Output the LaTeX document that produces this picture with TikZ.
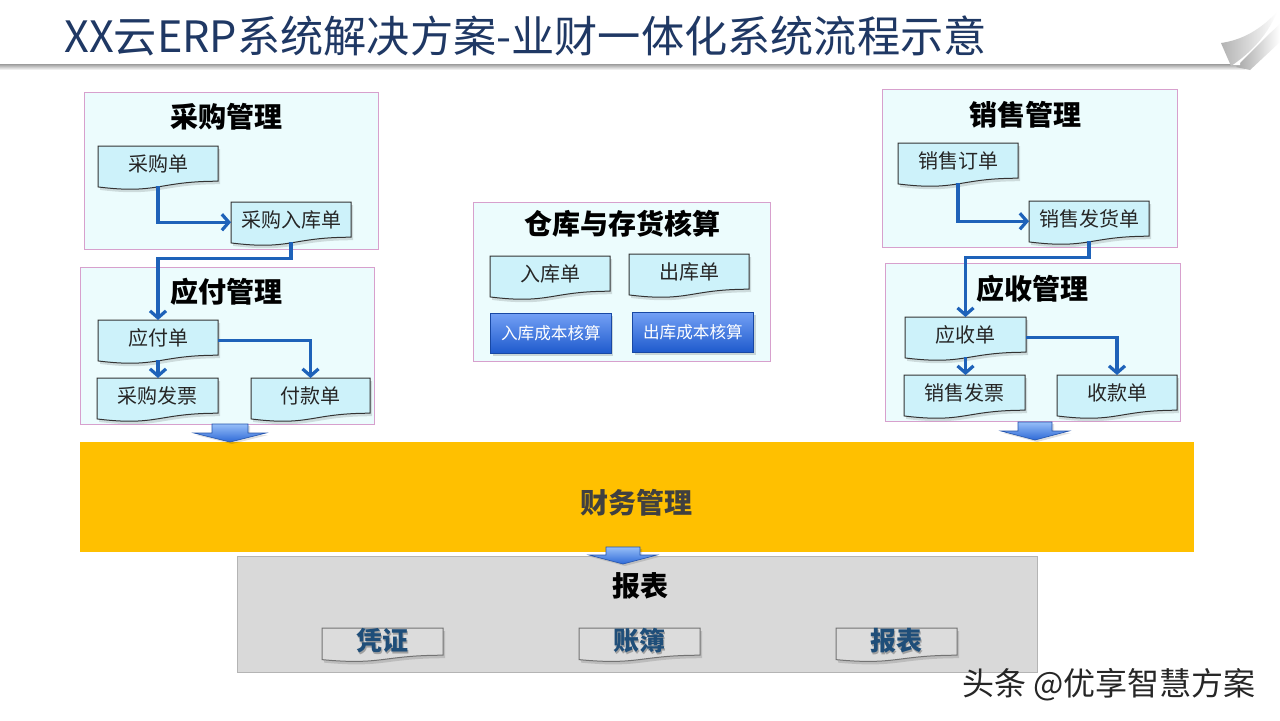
\documentclass[tikz,border=0pt]{standalone}
\usepackage{fontspec}
\setmainfont{Noto Sans CJK SC}
\usetikzlibrary{arrows.meta,calc}
\definecolor{titleblue}{RGB}{31,56,100}
\definecolor{panelfill}{RGB}{236,252,253}
\definecolor{panelborder}{RGB}{215,160,205}
\definecolor{docfill}{RGB}{205,242,250}
\definecolor{flowblue}{RGB}{30,98,185}
\definecolor{btntop}{RGB}{115,160,245}
\definecolor{btnbot}{RGB}{30,90,205}
\definecolor{arrtop}{RGB}{150,190,248}
\definecolor{arrbot}{RGB}{45,105,215}
\definecolor{finorange}{RGB}{255,192,0}
\definecolor{fintext}{RGB}{64,64,64}
\definecolor{repgray}{RGB}{217,217,217}
\definecolor{repborder}{RGB}{180,180,180}
\definecolor{repblue}{RGB}{31,78,121}

\newcommand\docshape[5]{% style, left, top, w, h
  \fill[black,opacity=0.13] (#2+2,#3+3) -- (#2+#4+2,#3+3) -- (#2+#4+2,#3+0.8*#5+3)
    .. controls (#2+0.5*#4+2,#3+0.8*#5+3) and (#2+0.5*#4+2,#3+1.1*#5+3) .. (#2+2,#3+0.93*#5+3) -- cycle;
  \path[#1] (#2,#3) -- (#2+#4,#3) -- (#2+#4,#3+0.8*#5)
    .. controls (#2+0.5*#4,#3+0.8*#5) and (#2+0.5*#4,#3+1.1*#5) .. (#2,#3+0.93*#5) -- cycle;
}
\newcommand\docnode[6]{% name, left, top, w, h, text
  \docshape{docstyle}{#2}{#3}{#4}{#5}
  \node[docanchor, minimum width=#4*0.5pt, minimum height=#5*0.46pt] (#1) at (#2,#3) {};
  \node[doctext] at ($(#1.north)+(0,0.41*#5)$) {#6};
}
\newcommand\repdoc[5]{% name, left, top, w, text
  \docshape{repdocstyle}{#2}{#3}{#4}{34}
  \node[docanchor, minimum width=#4*0.5pt, minimum height=34*0.46pt] (#1) at (#2,#3) {};
  \node[reptext, text=black!60, opacity=0.5] at ($(#1.north)+(1,14.5)$) {#5};
  \node[reptext] at ($(#1.north)+(0,13)$) {#5};
}
\newcommand\blockarrow[5]{% cx, top, headtop, tip, halfshaft
  \fill[black,opacity=0.12] (#1-#5+2,#2+2) -- (#1+#5+2,#2+2) -- (#1+#5+2,#3+2) -- (#1+2*#5+2,#3+2) -- (#1+2,#4+2) -- (#1-2*#5+2,#3+2) -- (#1-#5+2,#3+2) -- cycle;
  \shade[top color=arrtop, bottom color=arrbot, draw=arrbot!80!black, line width=0.3pt]
    (#1-#5,#2) -- (#1+#5,#2) -- (#1+#5,#3) -- (#1+2*#5,#3) -- (#1,#4) -- (#1-2*#5,#3) -- (#1-#5,#3) -- cycle;
}

\begin{document}
\begin{tikzpicture}[x=0.5pt,y=-0.5pt,
  panel/.style={fill=panelfill, draw=panelborder, line width=0.6pt, anchor=north west, inner sep=0pt},
  paneltitle/.style={font=\fontsize{14}{16}\selectfont\bfseries, text=black},
  docstyle/.style={fill=docfill, draw=black!80, line width=0.5pt},
  repdocstyle/.style={fill=repgray!92!white, draw=black!55, line width=0.5pt},
  docanchor/.style={draw=none, inner sep=0pt, outer sep=0pt, anchor=north west},
  doctext/.style={font=\fontsize{10}{12}\selectfont, text=black!85},
  reptext/.style={font=\fontsize{13}{15}\selectfont\bfseries, text=repblue},
  flow/.style={draw=flowblue, line width=1.6pt, -{Straight Barb[length=3.5pt,width=8pt,line width=1.6pt]}},
  costbtn/.style={top color=btntop, bottom color=btnbot, draw=btnbot!80!black, line width=0.4pt,
    anchor=north west, inner sep=0pt, minimum width=60.5pt, minimum height=20pt,
    font=\fontsize{8.3}{10}\selectfont, text=white}]
\useasboundingbox (0,0) rectangle (1280,720);
\fill[white] (0,0) rectangle (1280,720);

% ---------- title banner ----------
\shade[top color=black!45, bottom color=white] (0,63) rectangle (1245,70);
\fill[white] (0,0) rectangle (1240,64);
\shade[left color=black!35, right color=white] (1236,67) -- (1268,35) -- (1280,24) -- (1280,42) -- (1250,70) -- cycle;
\fill[white] (1232,65) -- (1222,42) -- (1262,24) -- (1280,6) -- (1280,0) -- (1240,0) -- (1240,65) -- cycle;
\shade[left color=black!30, right color=white] (1221,43) .. controls (1242,40) and (1260,30) .. (1277,12)
  .. controls (1268,34) and (1252,52) .. (1231,66) -- cycle;
\node[anchor=west, font=\fontsize{21.6}{26}\selectfont, text=titleblue, inner sep=0pt] (title) at (64,36)
  {XX云ERP系统解决方案-业财一体化系统流程示意};

% ---------- purchase ----------
\node[panel, minimum width=147pt, minimum height=78.5pt] (cgpanel) at (84,92) {};
\node[paneltitle] (cgtitle) at (226,117) {采购管理};
\docnode{cgd}{98}{146}{120}{44}{采购单}
\docnode{cgrk}{231}{202}{120}{44}{采购入库单}

\node[panel, minimum width=147pt, minimum height=78.5pt] (yfpanel) at (80,267) {};
\node[paneltitle] (yftitle) at (226,292) {应付管理};
\docnode{yfd}{98}{320}{120}{44}{应付单}
\docnode{cgfp}{97}{378}{121}{44}{采购发票}
\docnode{fkd}{251}{378}{119}{44}{付款单}

\draw[flow] (cgd.south) |- (cgrk.west);
\draw[flow] (cgrk.south) -- ($(cgrk.south)+(0,16)$) -| (yfd.north);
\draw[flow] (yfd.south) -- (yfd.south |- cgfp.north);
\draw[flow] (yfd.east) -| (fkd.north);

% ---------- warehouse ----------
\node[panel, minimum width=148.5pt, minimum height=79.5pt] (ckpanel) at (473,202) {};
\node[paneltitle] (cktitle) at (622,224) {仓库与存货核算};
\docnode{rkd}{490}{256}{120}{44}{入库单}
\docnode{ckd}{629}{254}{120}{44}{出库单}
\fill[black,opacity=0.15] (493,316) rectangle (613,356);
\fill[black,opacity=0.15] (635,315) rectangle (756,355);
\node[costbtn] (rkcb) at (490,313) {入库成本核算};
\node[costbtn] (ckcb) at (632,312) {出库成本核算};

% ---------- sales ----------
\node[panel, minimum width=147.5pt, minimum height=79pt] (xspanel) at (882,89) {};
\node[paneltitle] (xstitle) at (1025,115) {销售管理};
\docnode{xsdd}{898}{143}{120}{44}{销售订单}
\docnode{xsfh}{1029}{201}{120}{44}{销售发货单}

\node[panel, minimum width=147.5pt, minimum height=79pt] (yspanel) at (885,263) {};
\node[paneltitle] (ystitle) at (1032,289) {应收管理};
\docnode{ysd}{905}{317}{121}{44}{应收单}
\docnode{xsfp}{904}{375}{121}{44}{销售发票}
\docnode{skd}{1057}{375}{120}{44}{收款单}

\draw[flow] (xsdd.south) |- (xsfh.west);
\draw[flow] (xsfh.south) -- ($(xsfh.south)+(0,16)$) -| (ysd.north);
\draw[flow] (ysd.south) -- (ysd.south |- xsfp.north);
\draw[flow] (ysd.east) -| (skd.north);

% ---------- finance ----------
\node[fill=finorange, anchor=north west, inner sep=0pt, minimum width=557pt, minimum height=55pt] (cw) at (80,442) {};
\node[font=\fontsize{14}{16}\selectfont\bfseries, text=fintext] (cwtext) at (636,503) {财务管理};

\blockarrow{230}{424}{433}{442}{18}
\blockarrow{1035}{422}{431}{440}{17}

% ---------- reports ----------
\node[fill=repgray, draw=repborder, line width=0.5pt, anchor=north west, inner sep=0pt,
  minimum width=400pt, minimum height=58pt] (bb) at (237,556) {};
\blockarrow{623}{547}{555}{564}{17}
\node[font=\fontsize{14}{16}\selectfont\bfseries, text=black] (bbtitle) at (640,586) {报表};
\repdoc{pz}{322}{628}{121}{凭证}
\repdoc{zb}{579}{628}{121}{账簿}
\repdoc{bbd}{836}{628}{121}{报表}

% ---------- watermark ----------
\node[font=\fontsize{16}{18}\selectfont, text=black!85] (wm) at (1109,685) {头条 @优享智慧方案};
\end{tikzpicture}
\end{document}
